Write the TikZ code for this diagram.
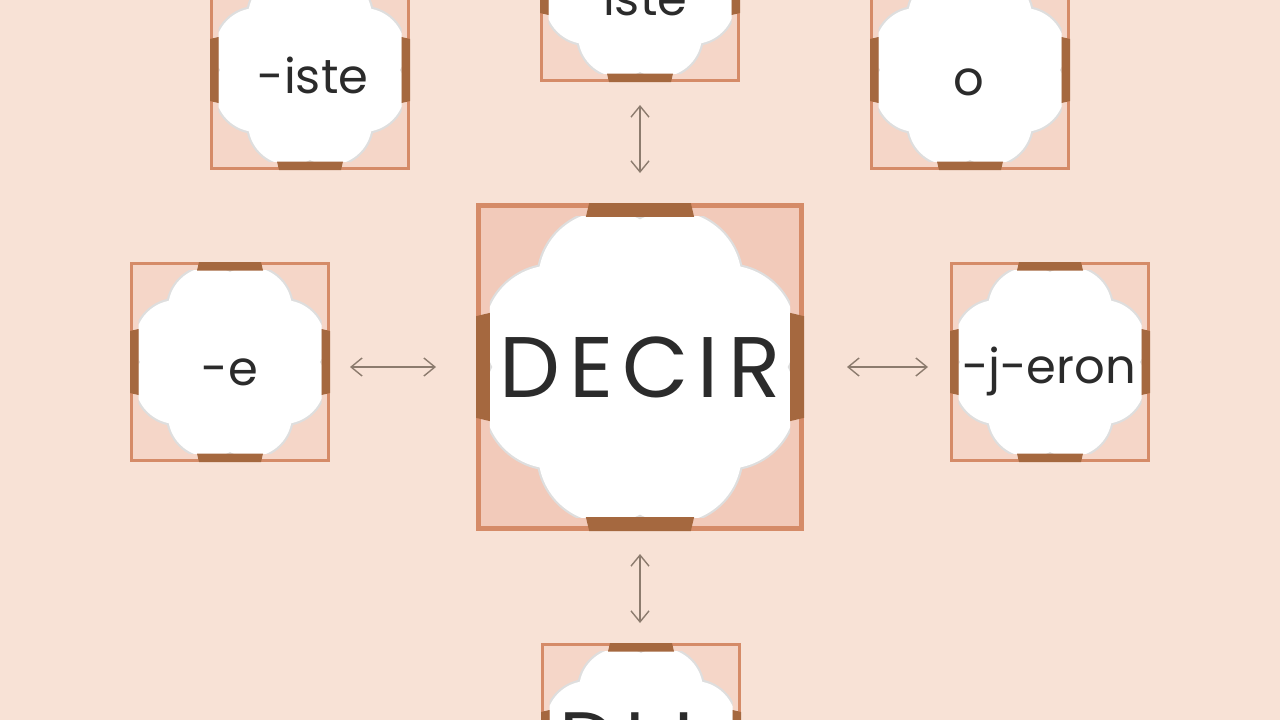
\documentclass[tikz,border=0pt]{standalone}
\usepackage{fontspec}
\usetikzlibrary{arrows.meta,calc}
\newfontfamily\lblfont{Poppins}
\definecolor{bgc}{HTML}{F8E2D6}
\definecolor{fillbig}{HTML}{F2CABA}
\definecolor{fillsmall}{HTML}{F5D6C8}
\definecolor{copper}{HTML}{D58B68}
\definecolor{barc}{HTML}{A5683F}
\definecolor{arrc}{HTML}{8C7B6E}
\definecolor{txtc}{HTML}{2B2B2B}
\tikzset{
  boxsq/.style={draw=copper, inner sep=0pt, shape=rectangle},
  cloudshadow/.style={fill=black!13},
  barshape/.style={fill=barc},
  lbl/.style={text=txtc, inner sep=0pt, anchor=base, font=\lblfont\fontsize{48}{54}\selectfont},
  biglbl/.style={text=txtc, inner sep=0pt, anchor=base, font=\lblfont\fontsize{86}{90}\selectfont},
  arr/.style={draw=arrc, line width=1.4pt, {Straight Barb[length=11pt,width=18pt,line width=1.4pt]}-{Straight Barb[length=11pt,width=18pt,line width=1.4pt]}}
}
% cloud outline: 8 circles plus the octagon of their centres
% #1 cx, #2 cy, #3 half size, #4 extra radius
\newcommand\cloudpath[4]{%
  ({#1-0.2*#3},{#2-0.53*#3}) -- ({#1+0.2*#3},{#2-0.53*#3}) -- ({#1+0.53*#3},{#2-0.2*#3}) --
  ({#1+0.53*#3},{#2+0.2*#3}) -- ({#1+0.2*#3},{#2+0.53*#3}) -- ({#1-0.2*#3},{#2+0.53*#3}) --
  ({#1-0.53*#3},{#2+0.2*#3}) -- ({#1-0.53*#3},{#2-0.2*#3}) -- cycle
  ({#1-0.2*#3},{#2-0.53*#3}) circle[radius={0.42*#3+#4}]
  ({#1+0.2*#3},{#2-0.53*#3}) circle[radius={0.42*#3+#4}]
  ({#1+0.53*#3},{#2-0.2*#3}) circle[radius={0.42*#3+#4}]
  ({#1+0.53*#3},{#2+0.2*#3}) circle[radius={0.42*#3+#4}]
  ({#1+0.2*#3},{#2+0.53*#3}) circle[radius={0.42*#3+#4}]
  ({#1-0.2*#3},{#2+0.53*#3}) circle[radius={0.42*#3+#4}]
  ({#1-0.53*#3},{#2+0.2*#3}) circle[radius={0.42*#3+#4}]
  ({#1-0.53*#3},{#2-0.2*#3}) circle[radius={0.42*#3+#4}]
}
% #1 name, #2 cx, #3 cy, #4 half size, #5 line width, #6 fill colour
\newcommand\cloudbox[6]{%
  \node[boxsq, fill=#6, line width=#5, minimum size={2*#4-#5}] (#1) at (#2,#3) {};
  \begin{scope}
    \clip ({#2-0.915*#4},{#3-0.915*#4}) rectangle ({#2+0.915*#4},{#3+0.915*#4});
    \fill[cloudshadow, nonzero rule] \cloudpath{#2}{#3}{#4}{2.2};
    \fill[white, nonzero rule] \cloudpath{#2}{#3}{#4}{0};
  \end{scope}
  \fill[barshape] ({#2-0.31*#4},{#3-#4}) -- ({#2+0.31*#4},{#3-#4}) -- ({#2+0.33*#4},{#3-0.915*#4}) -- ({#2-0.33*#4},{#3-0.915*#4}) -- cycle;
  \fill[barshape] ({#2-0.31*#4},{#3+#4}) -- ({#2+0.31*#4},{#3+#4}) -- ({#2+0.33*#4},{#3+0.915*#4}) -- ({#2-0.33*#4},{#3+0.915*#4}) -- cycle;
  \fill[barshape] ({#2-#4},{#3-0.31*#4}) -- ({#2-#4},{#3+0.31*#4}) -- ({#2-0.915*#4},{#3+0.33*#4}) -- ({#2-0.915*#4},{#3-0.33*#4}) -- cycle;
  \fill[barshape] ({#2+#4},{#3-0.31*#4}) -- ({#2+#4},{#3+0.31*#4}) -- ({#2+0.915*#4},{#3+0.33*#4}) -- ({#2+0.915*#4},{#3-0.33*#4}) -- cycle;
}
\begin{document}
\begin{tikzpicture}[x=1pt,y=-1pt]
\fill[bgc] (0,0) rectangle (1280,720);
\useasboundingbox (0,0) rectangle (1280,720);

\cloudbox{decir}{640}{367}{164}{5}{fillbig}
\cloudbox{e}{230}{362}{100}{3}{fillsmall}
\cloudbox{jeron}{1050}{362}{100}{3}{fillsmall}
\cloudbox{isteL}{310}{70}{100}{3}{fillsmall}
\cloudbox{isteC}{640}{-18}{100}{3}{fillsmall}
\cloudbox{o}{970}{70}{100}{3}{fillsmall}
\cloudbox{dij}{641}{743}{100}{3}{fillsmall}

\node[biglbl] (decir-t) at (640,397) {D\kern9pt E\kern9pt C\kern9pt I\kern9pt R};
\node[lbl] (e-t) at (230,385) {-e};
\node[lbl] (jeron-t) at (1049,383) {-j-eron};
\node[lbl] (isteL-t) at (313,93) {-iste};
\node[lbl] (isteC-t) at (632,16) {-iste};
\node[lbl] (o-t) at (969,95) {o};
\node[biglbl, font=\lblfont\fontsize{80}{84}\selectfont] (dij-t) at (628,768) {D\kern9pt I\kern9pt J};

\draw[arr, shorten <=20pt, shorten >=40pt] (e.east |- decir.west) -- (decir.west);
\draw[arr, shorten <=43pt, shorten >=22pt] (decir.east) -- (decir.east -| jeron.west);
\draw[arr, shorten <=23pt, shorten >=30pt] (isteC.south) -- (isteC.south |- decir.north);
\draw[arr, shorten <=23pt, shorten >=20pt] (decir.south) -- (decir.south |- dij.north);
\end{tikzpicture}
\end{document}
